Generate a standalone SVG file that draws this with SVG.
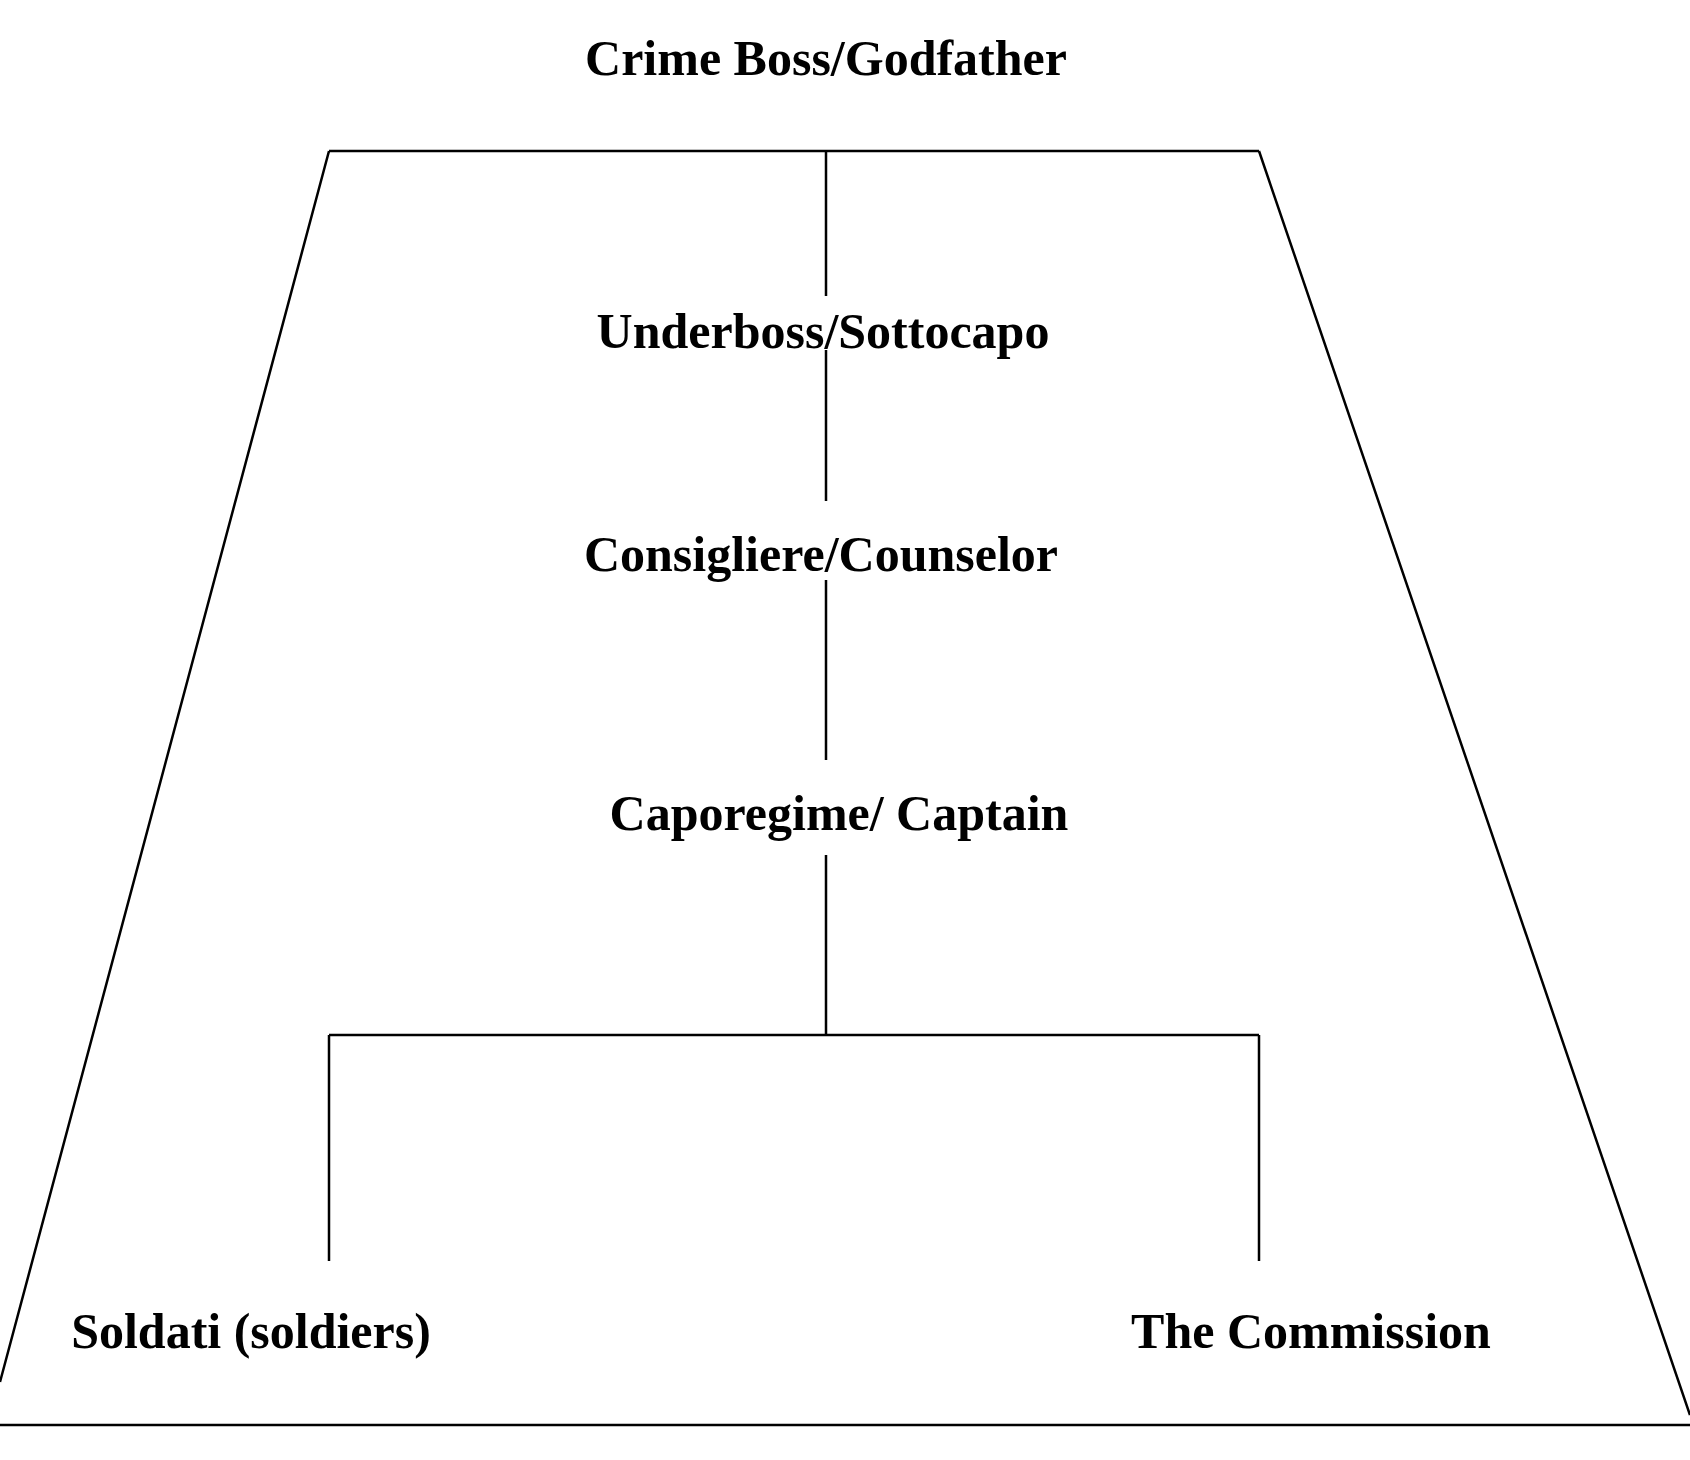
<svg xmlns="http://www.w3.org/2000/svg" width="1690" height="1460" viewBox="0 0 1690 1460">
<style>
text{font-family:"Liberation Serif","Times New Roman",serif;font-weight:bold;font-size:50px;fill:#000;text-anchor:middle}
.l{stroke:#000;stroke-width:2.5;fill:none}
</style>
<rect width="1690" height="1460" fill="#fff"/>
<g id="frame">
<path class="l" d="M329,151 L0,1382 M1259,151 L1690,1415"/>
<line class="l" x1="0" y1="1425" x2="1690" y2="1425" stroke-width="3.5"/>
</g>
<g id="connectors">
<path class="l" d="M329,151 H1259 M826,151 V296 M826,350 V501 M826,580 V760 M826,855 V1035 M329,1035 H1259 M329,1035 V1261 M1259,1035 V1261"/>
</g>
<g id="boss"><text x="826" y="75">Crime Boss/Godfather</text></g>
<g id="underboss"><text x="823" y="348">Underboss/Sottocapo</text></g>
<g id="consigliere"><text x="821" y="571">Consigliere/Counselor</text></g>
<g id="caporegime"><text x="839" y="830">Caporegime/ Captain</text></g>
<g id="soldati"><text x="251" y="1348">Soldati (soldiers)</text></g>
<g id="commission"><text x="1311" y="1348">The Commission</text></g>
</svg>
